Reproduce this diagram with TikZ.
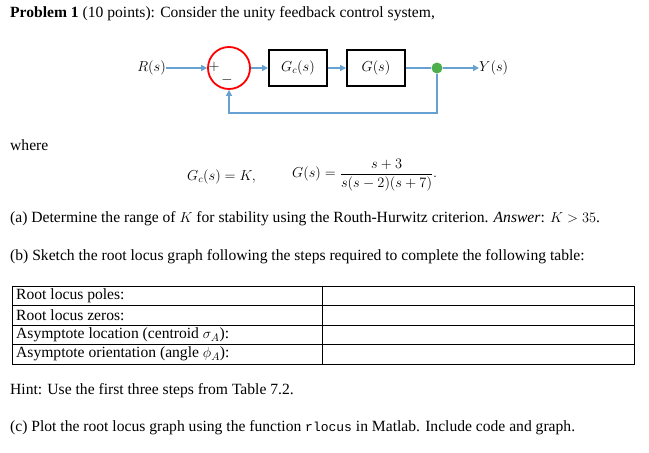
\documentclass[tikz,border=0pt]{standalone}
\usepackage{amsmath}
\usepackage{fontspec}
\setmainfont{Liberation Serif}
\setmonofont{Liberation Mono}
\usetikzlibrary{arrows.meta}
\begin{document}
\begin{tikzpicture}[x=1pt,y=-1pt,
  txt/.style={anchor=west,inner sep=0pt,font=\fontsize{15.6}{18}\selectfont},
  mth/.style={inner sep=0pt,font=\fontsize{14.5}{17}\selectfont},
  blk/.style={draw,line width=2pt,minimum width=58pt,minimum height=36pt,inner sep=0pt,mth},
  sig/.style={draw=blue!45!cyan!70!black!60,line width=1.8pt,-{Triangle[length=6pt,width=6pt]}},
  wire/.style={draw=blue!45!cyan!70!black!60,line width=1.8pt}]
\fill[white] (0,0) rectangle (649,453);
\useasboundingbox (0,0) rectangle (649,453);
\node[txt] (t1) at (10,14) {\textbf{Problem 1} (10 points): Consider the unity feedback control system,};
% block diagram
\node[mth,anchor=east] (R) at (166,68) {$R(s)$};
\node[draw=red,line width=1.8pt,circle,minimum size=42pt,inner sep=0pt] (sum) at (229,68) {};
\node[mth] (plus) at (214,67) {$+$};
\node[mth] (minus) at (227,80) {$-$};
\node[blk] (gc) at (298,68) {$G_c(s)$};
\node[blk] (g) at (376,68) {$G(s)$};
\node[circle,fill=green!55!black!70,inner sep=0pt,minimum size=11pt] (dot) at (437,68) {};
\node[mth,anchor=west] (Y) at (479,68) {$Y(s)$};
\coordinate (c1) at (437,113);
\coordinate (c2) at (229,113);
\draw[sig] (R) -- (sum);
\draw[sig] (sum) -- (gc);
\draw[sig] (gc) -- (g);
\draw[wire] (g) -- (dot);
\draw[sig] (dot) -- (Y);
\draw[sig] (dot) -- (c1) -- (c2) -- (sum);
\node[txt] (where) at (10,145) {where};
\node[mth,anchor=west] (eq1) at (187,177) {$G_c(s)=K,$};
\node[mth,anchor=west] (eq2) at (292,175) {$G(s)=\dfrac{s+3}{s(s-2)(s+7)}.$};
\node[txt] (a) at (10,219) {(a) Determine the range of $K$ for stability using the Routh-Hurwitz criterion. \textit{Answer}: $K>35$.};
\node[txt] (b) at (10,257) {(b) Sketch the root locus graph following the steps required to complete the following table:};
% table
\draw[line width=0.9pt] (12,286) rectangle (634,364);
\foreach \y in {305.5,325,344.5} \draw[line width=0.7pt] (12,\y) -- (634,\y);
\draw[line width=0.7pt] (322,286) -- (322,364);
\node[txt] (r1) at (16,296) {Root locus poles:};
\node[txt] (r2) at (16,315) {Root locus zeros:};
\node[txt] (r3) at (16,335) {Asymptote location (centroid $\sigma_A$):};
\node[txt] (r4) at (16,354) {Asymptote orientation (angle $\phi_A$):};
\node[txt] (h) at (10,391) {Hint: Use the first three steps from Table 7.2.};
\node[txt] (c) at (10,428) {(c) Plot the root locus graph using the function {\fontsize{13}{15}\selectfont\texttt{rlocus}} in Matlab. Include code and graph.};
\end{tikzpicture}
\end{document}
